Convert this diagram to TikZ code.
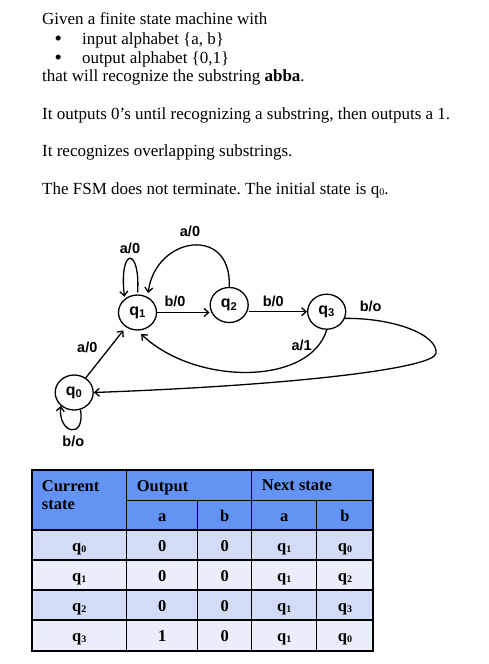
\documentclass[tikz,border=0pt]{standalone}
\usepackage{fontspec}
\setmainfont{Liberation Serif}
\newfontfamily\fsmsans{Liberation Sans}
\usetikzlibrary{calc,arrows.meta,shapes.geometric}
\definecolor{fsmInk}{HTML}{000000}
\definecolor{fsmHead}{HTML}{6394F3}
\definecolor{fsmRowA}{HTML}{D3DCF6}
\definecolor{fsmRowB}{HTML}{EAEEFA}
\newcommand{\fsmidx}[1]{\raisebox{-0.8pt}{\fontsize{10}{10}\selectfont #1}}
\frenchspacing

\begin{document}
\begin{tikzpicture}[
    x=1pt, y=-1pt,
    fsm state/.style={draw=fsmInk, ellipse, line width=1.3pt, minimum width=38pt, minimum height=35pt, inner sep=0pt, font=\fsmsans\bfseries\fontsize{16}{16}\selectfont},
    fsm edge/.style={draw=fsmInk, line width=1.3pt, -{Straight Barb[length=4.5pt, width=8pt]}},
    fsm label/.style={text=fsmInk, font=\fsmsans\bfseries\fontsize{14.5}{14.5}\selectfont, inner sep=1pt},
    fsm text/.style={text=fsmInk, font=\fontsize{17}{19}\selectfont, inner sep=0pt, anchor=base west},
    fsm bullet/.style={text=fsmInk, font=\fontsize{21}{21}\selectfont, inner sep=0pt, anchor=base west},
    fsm cell/.style={text=fsmInk, font=\bfseries\fontsize{16.5}{19}\selectfont, inner sep=0pt, anchor=base},
    fsm head/.style={fsm cell, anchor=base west},
    fsm rule/.style={draw=fsmInk, line width=1.5pt},
]
  \useasboundingbox (0,0) rectangle (488,664);

  % Enunciado.
  \node[fsm text] (t-l1) at (42,24.3) {Given a finite state machine with};
  \node[fsm bullet] (t-b1) at (54.5,45) {\textbullet};
  \node[fsm text] (t-l2) at (82,44.3) {input alphabet \{a, b\}};
  \node[fsm bullet] (t-b2) at (54.5,64) {\textbullet};
  \node[fsm text] (t-l3) at (82,63.3) {output alphabet \{0,1\}};
  \node[fsm text] (t-l4) at (42,81.7) {that will recognize the substring \textbf{abba}.};
  \node[fsm text] (t-l5) at (42,119.3) {It outputs 0’s until recognizing a substring, then outputs a 1.};
  \node[fsm text] (t-l6) at (42,156.7) {It recognizes overlapping substrings.};
  \node[fsm text] (t-l7) at (42,194.3) {The FSM does not terminate. The initial state is q\fsmidx{0}.};

  % Estados.
  \node[fsm state] (s-q0) at (74.2,392.5) {q\textsubscript{0}};
  \node[fsm state] (s-q1) at (137.5,312.5) {q\textsubscript{1}};
  \node[fsm state] (s-q2) at (229.2,305) {q\textsubscript{2}};
  \node[fsm state] (s-q3) at (326.7,311.7) {q\textsubscript{3}};

  % Transições.
  \draw[fsm edge, shorten >=4pt] (s-q0) -- (s-q1);
  \draw[fsm edge, shorten <=2pt, shorten >=2pt] (s-q1.north) .. controls +(3,-48) and +(-6,-52) .. (s-q1.133);
  \draw[fsm edge] (s-q1.east) -- (s-q2.west |- s-q1.east);
  \draw[fsm edge, shorten >=4pt] (s-q2.north) .. controls +(3,-62) and +(8,-61) .. (s-q1.57);
  \draw[fsm edge] (s-q2.east |- s-q3.west) -- (s-q3.west);
  \draw[fsm edge, shorten >=5pt] (s-q3.south) .. controls +(-17,56) and +(58,55) .. (s-q1.south);
  \draw[fsm edge] (s-q3.-20) .. controls (395,318) and (438,335) .. (436,353.3) .. controls (434,368) and (300,385) .. (s-q0.east);
  \draw[fsm edge] (s-q0.-70) .. controls +(5,30) and +(-3,28) .. (s-q0.225);

  % Rótulos.
  \node[fsm label] (l-q1-q1) at ($(s-q1)+(-7.5,-64.2)$) {a/0};
  \node[fsm label] (l-q2-q1) at ($(s-q2)+(-39.2,-73.3)$) {a/0};
  \node[fsm label] (l-q1-q2) at ($(s-q1)+(37.5,-10.8)$) {b/0};
  \node[fsm label] (l-q2-q3) at ($(s-q2)+(44.1,-3.3)$) {b/0};
  \node[fsm label] (l-q3-q0) at ($(s-q3)+(44,-5)$) {b/o};
  \node[fsm label] (l-q3-q1) at ($(s-q3)+(-25,33.3)$) {a/1};
  \node[fsm label] (l-q0-q1) at ($(s-q0)+(13.1,-45.2)$) {a/0};
  \node[fsm label] (l-q0-q0) at ($(s-q0)+(-0.9,49.2)$) {b/o};

  % Tabela.
  \fill[fsmHead] (31.7,470) rectangle (373.3,530);
  \fill[fsmRowA] (31.7,530) rectangle (373.3,560);
  \fill[fsmRowB] (31.7,560) rectangle (373.3,590);
  \fill[fsmRowA] (31.7,590) rectangle (373.3,620);
  \fill[fsmRowB] (31.7,620) rectangle (373.3,650.7);
  \draw[fsm rule] (126.7,500.7) -- (373.3,500.7);
  \draw[fsm rule] (31.7,530) -- (373.3,530);
  \draw[fsm rule] (31.7,560) -- (373.3,560);
  \draw[fsm rule] (31.7,590) -- (373.3,590);
  \draw[fsm rule] (31.7,620) -- (373.3,620);
  \draw[fsm rule] (126.7,470) -- (126.7,650.7);
  \draw[fsm rule] (197.7,500.7) -- (197.7,650.7);
  \draw[fsm rule] (251.7,470) -- (251.7,650.7);
  \draw[fsm rule] (316.7,500.7) -- (316.7,650.7);
  \draw[fsm rule, line width=2pt] (31.7,470) rectangle (373.3,650.7);

  % Cabeçalho.
  \node[fsm head] (h-cur) at (41.7,491) {Current};
  \node[fsm head] (h-state) at (41.7,509.3) {state};
  \node[fsm head] (h-out) at (136.7,491) {Output};
  \node[fsm head] (h-next) at (261.7,490.5) {Next state};
  \node[fsm cell] (h-out-a) at (162.2,521) {a};
  \node[fsm cell] (h-out-b) at (224.7,521) {b};
  \node[fsm cell] (h-next-a) at (284.2,521) {a};
  \node[fsm cell] (h-next-b) at (345,521) {b};

  % Linhas.
  \node[fsm cell] (c-q0-s) at (79.2,551.7) {q\fsmidx{0}};
  \node[fsm cell] (c-q0-oa) at (162.2,551.7) {0};
  \node[fsm cell] (c-q0-ob) at (224.7,551.7) {0};
  \node[fsm cell] (c-q0-na) at (284.2,551.7) {q\fsmidx{1}};
  \node[fsm cell] (c-q0-nb) at (345,551.7) {q\fsmidx{0}};
  \node[fsm cell] (c-q1-s) at (79.2,581.7) {q\fsmidx{1}};
  \node[fsm cell] (c-q1-oa) at (162.2,581.7) {0};
  \node[fsm cell] (c-q1-ob) at (224.7,581.7) {0};
  \node[fsm cell] (c-q1-na) at (284.2,581.7) {q\fsmidx{1}};
  \node[fsm cell] (c-q1-nb) at (345,581.7) {q\fsmidx{2}};
  \node[fsm cell] (c-q2-s) at (79.2,611.7) {q\fsmidx{2}};
  \node[fsm cell] (c-q2-oa) at (162.2,611.7) {0};
  \node[fsm cell] (c-q2-ob) at (224.7,611.7) {0};
  \node[fsm cell] (c-q2-na) at (284.2,611.7) {q\fsmidx{1}};
  \node[fsm cell] (c-q2-nb) at (345,611.7) {q\fsmidx{3}};
  \node[fsm cell] (c-q3-s) at (79.2,641.7) {q\fsmidx{3}};
  \node[fsm cell] (c-q3-oa) at (162.2,641.7) {1};
  \node[fsm cell] (c-q3-ob) at (224.7,641.7) {0};
  \node[fsm cell] (c-q3-na) at (284.2,641.7) {q\fsmidx{1}};
  \node[fsm cell] (c-q3-nb) at (345,641.7) {q\fsmidx{0}};
\end{tikzpicture}
\end{document}
